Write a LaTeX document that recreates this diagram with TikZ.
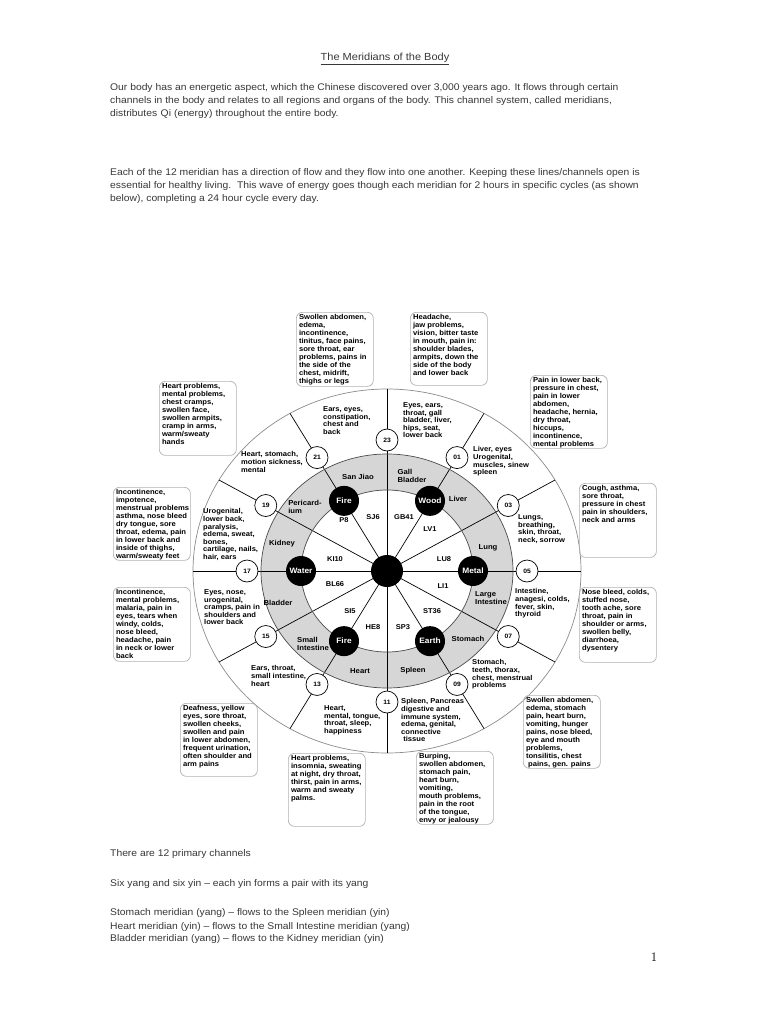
\documentclass[tikz,border=0pt]{standalone}
\usepackage{fontspec}
\newfontfamily\arial[FakeStretch=1.07]{Liberation Sans}
\definecolor{ringgray}{gray}{0.84}
\definecolor{bodygray}{gray}{0.22}
\newcommand\symptombox[5]{%
  \node[symbox, minimum width=77pt, minimum height=#4pt, anchor=north west] (#1) at (#2,#3) {};
  \node[boxtxt] (#1t) at ([xshift=2.8pt,yshift=-2.3pt]#1.north west) {#5};
}
\begin{document}
\begin{tikzpicture}[x=1pt,y=-1pt,
  body/.style={font=\arial\fontsize{9.65}{11}\selectfont, text=bodygray, anchor=base west, inner sep=0pt},
  boxtxt/.style={font=\arial\bfseries\fontsize{7.15}{7.95}\selectfont, align=left, anchor=north west, inner sep=0pt},
  ringtxt/.style={font=\arial\bfseries\fontsize{7.1}{7.6}\selectfont, align=left, anchor=north west, inner sep=0pt},
  symbox/.style={draw=black!30, rounded corners=6pt, line width=0.7pt, inner sep=0pt},
  numc/.style={circle, draw=black, fill=white, line width=0.7pt, minimum size=22pt, inner sep=0pt, font=\arial\bfseries\fontsize{6.3}{7}\selectfont},
  elem/.style={circle, fill=black, minimum size=30pt, inner sep=0pt, text=white, font=\arial\bfseries\fontsize{7.8}{8}\selectfont},
  lab/.style={font=\arial\bfseries\fontsize{7.2}{7.6}\selectfont, align=left, inner sep=0pt},
  code/.style={font=\arial\bfseries\fontsize{7.0}{7.6}\selectfont, inner sep=0pt},
  spoke/.style={draw=black, line width=0.7pt},
]
\useasboundingbox (0,0) rectangle (768,1024);
\fill[white] (0,0) rectangle (768,1024);

% ---------- text of the page ----------
\node[body, font=\arial\fontsize{10.3}{11}\selectfont, anchor=base] (title) at (385,60.5) {\underline{The Meridians of the Body}};
\node[body] (p1a) at (110,90.5) {Our body has an energetic aspect, which the Chinese discovered over 3,000 years ago. It flows through certain};
\node[body] (p1b) at (110,104) {channels in the body and relates to all regions and organs of the body. This channel system, called meridians,};
\node[body] (p1c) at (110,116.5) {distributes\hspace{3.5pt}Qi\hspace{3pt}(energy)\hspace{3pt}throughout\hspace{3pt}the\hspace{3pt}entire\hspace{3pt}body.};
\node[body] (p2a) at (110,175.5) {Each of the 12 meridian has a direction of flow and they flow into one another. Keeping these lines/channels open is};
\node[body] (p2b) at (110,189) {essential for healthy living.\ \ This wave of energy goes though each meridian for 2 hours in specific cycles (as shown};
\node[body] (p2c) at (110,201.5) {below), completing a 24 hour cycle every day.};
\node[body] (q1) at (110,856.5) {There are 12 primary channels};
\node[body] (q2) at (110,886) {Six yang and six yin – each yin forms a pair with its yang};
\node[body] (q3) at (110,915) {Stomach meridian (yang) – flows to the Spleen meridian (yin)};
\node[body] (q4) at (110,929) {Heart meridian (yin) – flows to the Small Intestine meridian (yang)};
\node[body] (q5) at (110,941.5) {Bladder meridian (yang) – flows to the Kidney meridian (yin)};
\node[font=\fontsize{13}{14}\selectfont, inner sep=0pt] (pg) at (654,957) {1};

% ---------- wheel ----------
\coordinate (c) at (387,571);
\draw[draw=black!45, line width=0.7pt] (c) ellipse [x radius=194pt, y radius=182pt];
\fill[ringgray, even odd rule] (c) ellipse [x radius=126pt, y radius=117pt] (c) ellipse [x radius=86pt, y radius=81pt];
\foreach \a in {0,30,...,330}{
  \coordinate (o\a) at ({387+194*cos(\a)},{571-182*sin(\a)});
  \draw[spoke] (c) -- (o\a);
}
\draw[black!70, line width=0.7pt] (c) ellipse [x radius=126pt, y radius=117pt];
\draw[black!70, line width=0.7pt] (c) ellipse [x radius=86pt, y radius=81pt];
\node[circle, fill=black, minimum size=32pt, inner sep=0pt] (ctr) at (c) {};

\foreach \a/\t/\nm in {0/Metal/metal,60/Wood/wood,120/Fire/firet,180/Water/water,240/Fire/fireb,300/Earth/earth}
  \node[elem] (\nm) at ({387+86*cos(\a)},{571-81*sin(\a)}) {\t};

\foreach \a/\n in {0/05,30/03,60/01,90/23,120/21,150/19,180/17,210/15,240/13,270/11,300/09,330/07}
  \node[numc] (n\n) at ({387+140*cos(\a)},{571-131*sin(\a)}) {\n};

% inner codes
\node[code] (sj6) at (373,517) {SJ6};
\node[code] (gb41) at (404,517) {GB41};
\node[code] (p8) at (344,520) {P8};
\node[code] (lv1) at (430,529) {LV1};
\node[code] (ki10) at (335,559) {KI10};
\node[code] (lu8) at (444,559) {LU8};
\node[code] (bl66) at (335,584) {BL66};
\node[code] (li1) at (443,586) {LI1};
\node[code] (si5) at (350,611) {SI5};
\node[code] (st36) at (432,611) {ST36};
\node[code] (he8) at (373,627) {HE8};
\node[code] (sp3) at (403,627) {SP3};

% ring organ labels
\node[lab] (sanjiao) at (358,477) {San Jiao};
\node[lab] (gallb) at (412,476) {Gall\\Bladder};
\node[lab] (liver) at (458,499) {Liver};
\node[lab] (peric) at (305,507) {Pericard-\\ium};
\node[lab] (kidney) at (282,544) {Kidney};
\node[lab] (lung) at (488,548) {Lung};
\node[lab] (bladder) at (278,603) {Bladder};
\node[lab] (largei) at (491,598) {Large\\Intestine};
\node[lab] (smalli) at (313,644) {Small\\Intestine};
\node[lab] (stomach) at (468,639) {Stomach};
\node[lab] (heart) at (360,671) {Heart};
\node[lab] (spleen) at (413,671) {Spleen};

% outer ring texts
\node[ringtxt] (ra) at (323,406.5) {Ears, eyes,\\constipation,\\chest and\\back};
\node[ringtxt] (rb) at (403,402.5) {Eyes, ears,\\throat, gall\\bladder, liver,\\hips, seat,\\lower back};
\node[ringtxt] (rc) at (473,446.5) {Liver, eyes\\Urogenital,\\muscles, sinew\\spleen};
\node[ringtxt] (rd) at (241,451.5) {Heart, stomach,\\motion sickness,\\mental};
\node[ringtxt] (re) at (203,508.5) {Urogenital,\\lower back,\\paralysis,\\edema, sweat,\\bones,\\cartilage, nails,\\hair, ears};
\node[ringtxt] (rf) at (518,514.5) {Lungs,\\breathing,\\skin, throat,\\neck, sorrow};
\node[ringtxt] (rg) at (515,588.5) {Intestine,\\anagesi, colds,\\fever, skin,\\thyroid};
\node[ringtxt] (rh) at (204,589.5) {Eyes, nose,\\urogenital,\\cramps, pain in\\shoulders and\\lower back};
\node[ringtxt] (ri) at (251,665.5) {Ears, throat,\\small intestine,\\heart};
\node[ringtxt] (rj) at (472,659.5) {Stomach,\\teeth, thorax,\\chest, menstrual\\problems};
\node[ringtxt] (rk) at (324,705.5) {Heart,\\mental, tongue,\\throat, sleep,\\happiness};
\node[ringtxt] (rl) at (401,698.5) {Spleen, Pancreas\\digestive and\\immune system,\\edema, genital,\\connective\\\ tissue};

% ---------- symptom boxes ----------
\symptombox{b1}{296}{312}{74}{Swollen abdomen,\\edema,\\incontinence,\\tinitus, face pains,\\sore throat, ear\\problems, pains in\\the side of the\\chest, midrift,\\thighs or legs}
\symptombox{b2}{410}{312}{73}{Headache,\\jaw problems,\\vision, bitter taste\\in mouth, pain in:\\shoulder blades,\\armpits, down the\\side of the body\\and lower back}
\symptombox{b3}{159}{381}{74}{Heart problems,\\mental problems,\\chest cramps,\\swollen face,\\swollen armpits,\\cramp in arms,\\warm/sweaty\\hands}
\symptombox{b4}{530}{375}{73}{Pain in lower back,\\pressure in chest,\\pain in lower\\abdomen,\\headache, hernia,\\dry throat,\\hiccups,\\incontinence,\\mental problems}
\symptombox{b5}{113}{487}{73}{Incontinence,\\impotence,\\menstrual problems\\asthma, nose bleed\\dry tongue, sore\\throat, edema, pain\\in lower back and\\inside of thighs,\\warm/sweaty feet}
\symptombox{b6}{579}{483}{74}{Cough, asthma,\\sore throat,\\pressure in chest\\pain in shoulders,\\neck and arms}
\symptombox{b7}{113}{587}{74}{Incontinence,\\mental problems,\\malaria, pain in\\eyes, tears when\\windy, colds,\\nose bleed,\\headache, pain\\in neck or lower\\back}
\symptombox{b8}{579}{587}{75}{Nose bleed, colds,\\stuffed nose,\\tooth ache, sore\\throat, pain in\\shoulder or arms,\\swollen belly,\\diarrhoea,\\dysentery}
\symptombox{b9}{180}{703}{73}{Deafness, yellow\\eyes, sore throat,\\swollen cheeks,\\swollen and pain\\in lower abdomen,\\frequent urination,\\often shoulder and\\arm pains}
\symptombox{b10}{523}{695}{73}{Swollen abdomen,\\edema, stomach\\pain, heart burn,\\vomiting, hunger\\pains, nose bleed,\\eye and mouth\\problems,\\tonsilitis, chest\\\ pains, gen. pains}
\symptombox{b11}{288}{753}{73}{Heart problems,\\insomnia, sweating\\at night, dry throat,\\thirst, pain in arms,\\warm and sweaty\\palms.}
\symptombox{b12}{416}{751}{73}{Burping,\\swollen abdomen,\\stomach pain,\\heart burn,\\vomiting,\\mouth problems,\\pain in the root\\of the tongue,\\envy or jealousy}
\end{tikzpicture}
\end{document}
